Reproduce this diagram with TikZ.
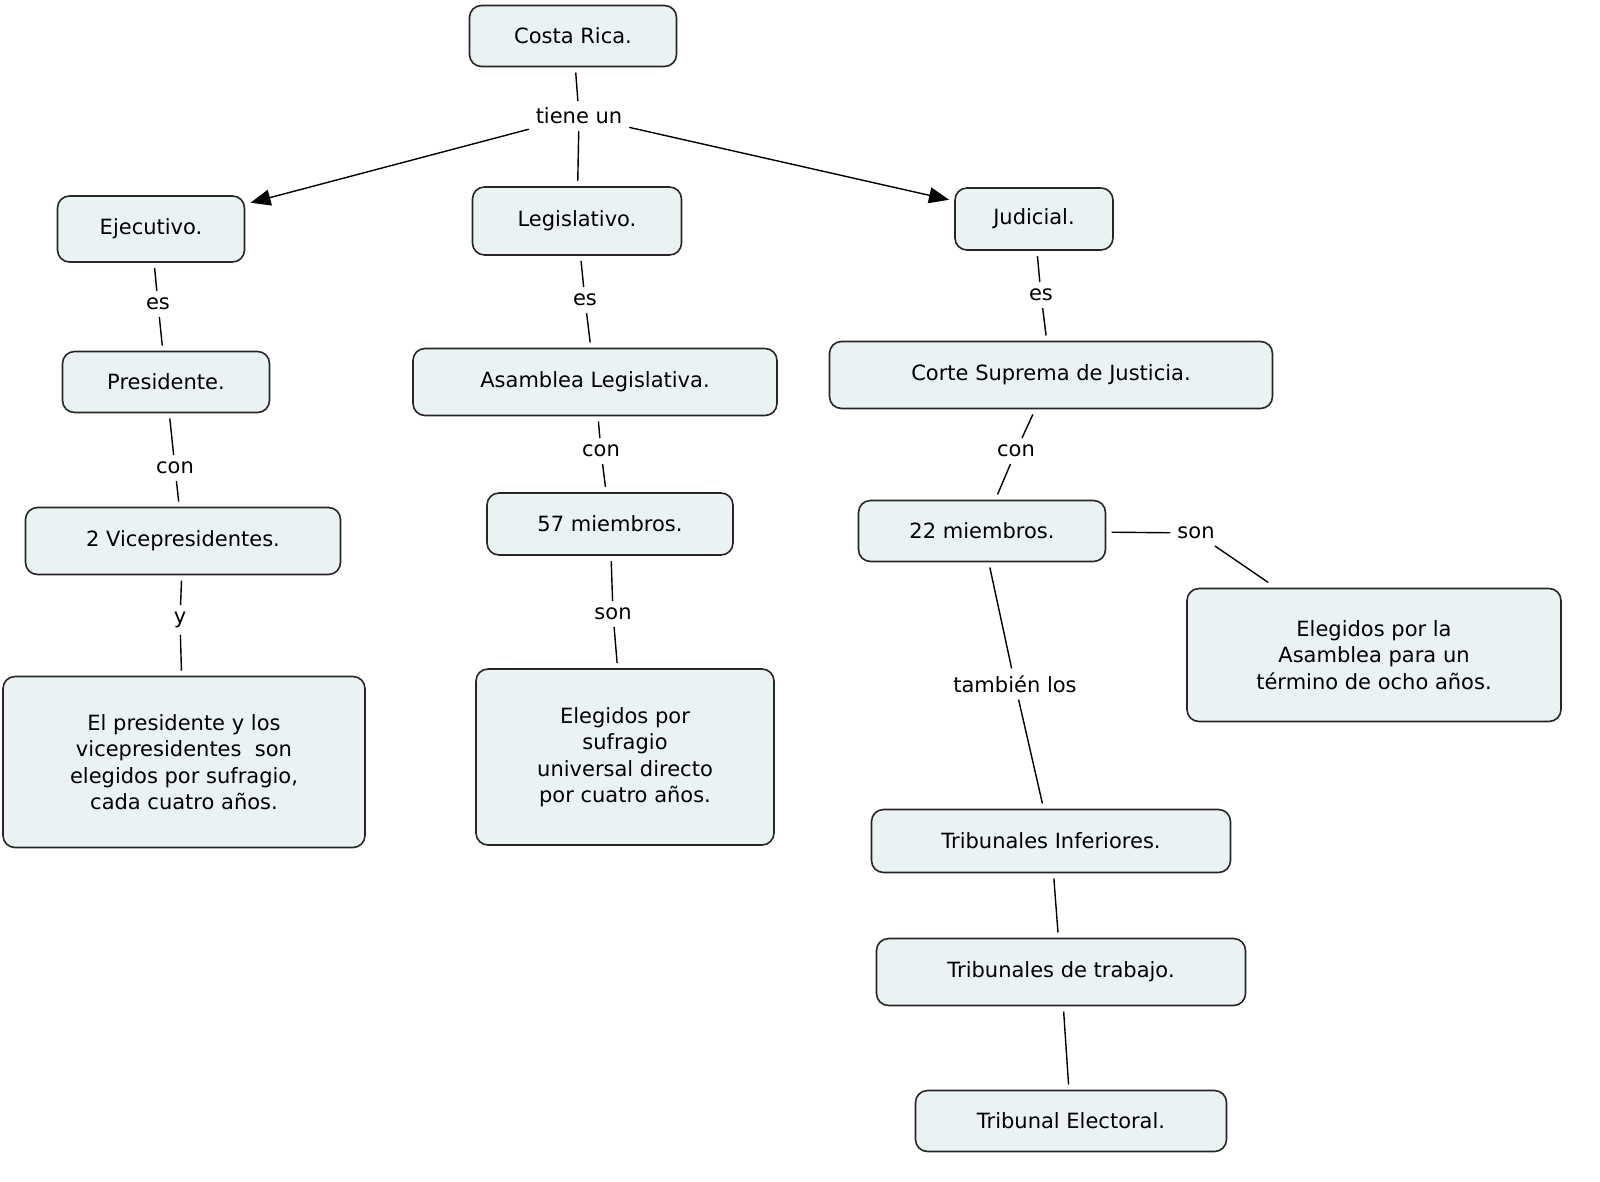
\documentclass[tikz,border=0pt]{standalone}
\usepackage{fontspec}
\setmainfont{DejaVu Sans}
\usetikzlibrary{arrows.meta}
\definecolor{boxfill}{HTML}{EBF2F4}
\begin{document}
\begin{tikzpicture}[x=1pt,y=-1pt,
  box/.style={draw=black!85,line width=1.6pt,fill=boxfill,rounded corners=12pt,inner sep=0pt,outer sep=6pt,font=\fontsize{21}{26.5}\selectfont,align=center},
  lab/.style={inner sep=3pt,outer sep=4pt,font=\fontsize{21}{26}\selectfont},
  ln/.style={line width=1.4pt},
  arr/.style={line width=1.4pt,-{Triangle[length=20pt,width=16pt]}}]
\useasboundingbox (0,0) rectangle (1600,1181);
\node[box,minimum width=207pt,minimum height=61pt] (cr) at (573,36) {Costa Rica.};
\node[box,minimum width=187pt,minimum height=66pt] (ej) at (151,229) {Ejecutivo.};
\node[box,minimum width=209pt,minimum height=68pt] (le) at (577,221) {Legislativo.};
\node[box,minimum width=158pt,minimum height=62pt] (ju) at (1034,219) {Judicial.};
\node[box,minimum width=207pt,minimum height=61pt] (pr) at (166,382) {Presidente.};
\node[box,minimum width=364pt,minimum height=67pt] (as) at (595,382) {Asamblea Legislativa.};
\node[box,minimum width=443pt,minimum height=67pt] (cs) at (1051,375) {Corte Suprema de Justicia.};
\node[box,minimum width=315pt,minimum height=67pt] (vp) at (183,541) {2 Vicepresidentes.};
\node[box,minimum width=246pt,minimum height=62pt] (m57) at (610,524) {57 miembros.};
\node[box,minimum width=247pt,minimum height=61pt] (m22) at (982,531) {22 miembros.};
\node[box,minimum width=362pt,minimum height=171pt] (ep) at (184,762) {El presidente y los\\vicepresidentes\ \ son\\elegidos por sufragio,\\cada cuatro años.};
\node[box,minimum width=298pt,minimum height=176pt] (es) at (625,757) {Elegidos por\\sufragio\\universal directo\\por cuatro años.};
\node[box,minimum width=374pt,minimum height=133pt] (ea) at (1374,655) {Elegidos por la\\Asamblea para un\\término de ocho años.};
\node[box,minimum width=359pt,minimum height=63pt] (ti) at (1051,841) {Tribunales Inferiores.};
\node[box,minimum width=369pt,minimum height=67pt] (tt) at (1061,972) {Tribunales de trabajo.};
\node[box,minimum width=311pt,minimum height=61pt] (te) at (1071,1121) {Tribunal Electoral.};
\node[lab] (l1) at (579,116) {tiene un};
\node[lab] (l2) at (158,304) {es};
\node[lab] (l3) at (585,300) {es};
\node[lab] (l4) at (1041,295) {es};
\node[lab] (l5) at (175,468) {con};
\node[lab] (l6) at (601,451) {con};
\node[lab] (l7) at (1016,451) {con};
\node[lab] (l8) at (180,620) {y};
\node[lab] (l9) at (613,614) {son};
\node[lab] (l10) at (1196,533) {son};
\node[lab] (l11) at (1015,684) {también los};
\draw[ln] (cr) -- (l1);
\draw[arr] (l1) -- (ej);
\draw[ln] (l1) -- (le);
\draw[arr] (l1) -- (ju);
\draw[ln] (ej) -- (l2); \draw[ln] (l2) -- (pr);
\draw[ln] (le) -- (l3); \draw[ln] (l3) -- (as);
\draw[ln] (ju) -- (l4); \draw[ln] (l4) -- (cs);
\draw[ln] (pr) -- (l5); \draw[ln] (l5) -- (vp);
\draw[ln] (as) -- (l6); \draw[ln] (l6) -- (m57);
\draw[ln] (cs) -- (l7); \draw[ln] (l7) -- (m22);
\draw[ln] (vp) -- (l8); \draw[ln] (l8) -- (ep);
\draw[ln] (m57) -- (l9); \draw[ln] (l9) -- (es);
\draw[ln] (m22) -- (l10); \draw[ln] (l10) -- (ea);
\draw[ln] (m22) -- (l11); \draw[ln] (l11) -- (ti);
\draw[ln] (ti) -- (tt);
\draw[ln] (tt) -- (te);
\end{tikzpicture}
\end{document}
